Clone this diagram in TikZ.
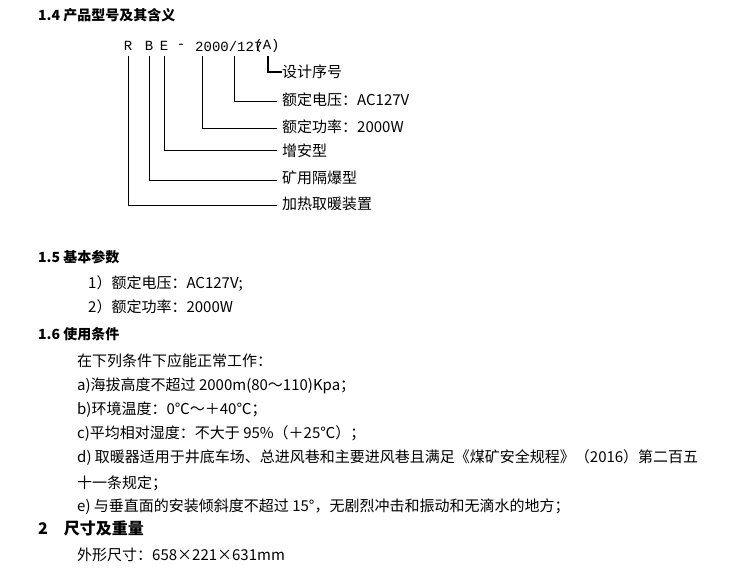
\documentclass[tikz,border=0pt]{standalone}
\usepackage{fontspec}
\setmainfont{Noto Sans CJK SC}
\newfontfamily\monofnt{Liberation Mono}
\begin{document}
\begin{tikzpicture}[x=1pt,y=-1pt,
  txt/.style={anchor=west,inner sep=0pt,font=\fontsize{15}{17}\selectfont},
  head/.style={anchor=west,inner sep=0pt,font=\bfseries\fontsize{14}{16}\selectfont},
  code/.style={anchor=center,inner sep=0pt,font=\monofnt\fontsize{14}{16}\selectfont},
  lead/.style={line width=1pt}]
\useasboundingbox (0,0) rectangle (750,582);
\node[head] (h14) at (38,15) {1.4 产品型号及其含义};
\node[code] (cR) at (128,46) {R};
\node[code] (cB) at (149,46) {B};
\node[code] (cE) at (164,46) {E};
\node[code] (cd) at (181,46) {-};
\node[code,anchor=west] (c2) at (195,46) {2000/127};
\node[code] (cA) at (267,46) {(A)};
\node[txt] (l1) at (282,72) {设计序号};
\node[txt] (l2) at (282,100) {额定电压：AC127V};
\node[txt] (l3) at (282,127) {额定功率：2000W};
\node[txt] (l4) at (282,151) {增安型};
\node[txt] (l5) at (282,178) {矿用隔爆型};
\node[txt] (l6) at (282,204) {加热取暖装置};
\draw[line width=2pt] (268,56) |- (l1.west);
\draw[lead] (234,56) |- (277,101);
\draw[lead] (202,56) |- (277,128);
\draw[lead] (164,56) |- (277,150);
\draw[lead] (149,56) |- (277,180);
\draw[lead] (128,56) |- (277,205);
\node[head] (h15) at (38,257) {1.5 基本参数};
\node[txt] (p1) at (88,283) {1）额定电压：AC127V;};
\node[txt] (p2) at (88,307) {2）额定功率：2000W};
\node[head] (h16) at (38,334) {1.6 使用条件};
\node[txt] (u0) at (77,361) {在下列条件下应能正常工作：};
\node[txt] (ua) at (77,386) {a)海拔高度不超过 2000m(80～110)Kpa；};
\node[txt] (ub) at (77,410) {b)环境温度：0℃～＋40℃；};
\node[txt] (uc) at (77,434) {c)平均相对湿度：不大于 95\%（＋25℃）；};
\node[txt] (ud) at (77,458) {d) 取暖器适用于井底车场、总进风巷和主要进风巷且满足《煤矿安全规程》（2016）第二百五};
\node[txt] (ud2) at (77,483) {十一条规定；};
\node[txt] (ue) at (77,507) {e) 与垂直面的安装倾斜度不超过 15°，无剧烈冲击和振动和无滴水的地方；};
\node[head,font=\bfseries\fontsize{16}{18}\selectfont] (h2) at (38,528) {2\hspace{16pt}尺寸及重量};
\node[txt] (s1) at (77,555) {外形尺寸：658×221×631mm};
\end{tikzpicture}
\end{document}
